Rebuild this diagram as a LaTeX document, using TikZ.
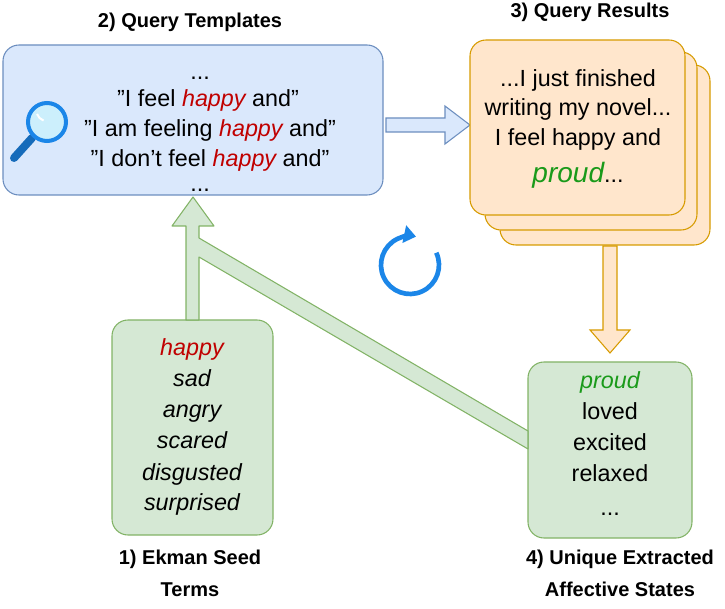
\documentclass[tikz,border=0pt]{standalone}
\usepackage{fontspec}
\setmainfont{Liberation Sans}[Ligatures=ResetAll]
\usetikzlibrary{arrows.meta}
\definecolor{bfill}{HTML}{DAE8FC}\definecolor{bdraw}{HTML}{6C8EBF}
\definecolor{ofill}{HTML}{FFE6CC}\definecolor{odraw}{HTML}{D79B00}
\definecolor{gfill}{HTML}{D5E8D4}\definecolor{gdraw}{HTML}{82B366}
\definecolor{hred}{HTML}{C00000}\definecolor{pgreen}{HTML}{1A9A1A}
\definecolor{cyc}{HTML}{1B86E8}
\begin{document}
\begin{tikzpicture}[x=0.75pt,y=-0.75pt,
  t/.style={font=\fontsize{17.5}{20}\selectfont,anchor=base,inner sep=0},
  ttl/.style={font=\fontsize{15}{17}\selectfont\bfseries,anchor=base,inner sep=0},
  box/.style={rounded corners=12pt,line width=0.8pt}]
\useasboundingbox (0,0) rectangle (725,609);
% blue box
\draw[box,fill=bfill,draw=bdraw] (3,45) rectangle (383,195);
\node[ttl] (t2) at (190,28) {2) Query Templates};
\node[t] (q0) at (200,80) {...};
\node[t] (q1) at (208,107) {"I feel \textcolor{hred}{\itshape happy} and"};
\node[t] (q2) at (210,137) {"I am feeling \textcolor{hred}{\itshape happy} and"};
\node[t] (q3) at (210,167) {"I don't feel \textcolor{hred}{\itshape happy} and"};
\node[t] (q4) at (200,192) {...};
% magnifier
\draw[line width=6pt,cyc!80!black,line cap=round] (32,138) -- (14,158);
\draw[line width=3pt,cyc,fill=cyan!20] (47,122) circle (19);
\draw[line width=1.5pt,white] (37,114) arc (-200:-250:11);
% blue arrow
\draw[fill=bfill,draw=bdraw,line width=0.8pt] (386,118) -- (445,118) -- (445,106) -- (470,125) -- (445,144) -- (445,132) -- (386,132) -- cycle;
% orange stack
\draw[box,fill=ofill,draw=odraw] (500,65) rectangle (710,245);
\draw[box,fill=ofill,draw=odraw] (485,52) rectangle (697,230);
\draw[box,fill=ofill,draw=odraw] (470,40) rectangle (685,215);
\node[ttl] (t3) at (590,18) {3) Query Results};
\node[t] (r1) at (578,87) {...I just finished};
\node[t] (r2) at (578,116) {writing my novel...};
\node[t] (r3) at (578,146) {I feel happy and};
\node[t] (r4) at (578,183) {\textcolor{pgreen}{\fontsize{21}{23}\selectfont\itshape proud}...};
% orange arrow
\draw[fill=ofill,draw=odraw,line width=0.8pt] (603,246) -- (617,246) -- (617,330) -- (630,330) -- (610,353) -- (590,330) -- (603,330) -- cycle;
% cycle
\draw[cyc,line width=3.5pt,-{Triangle[length=9pt,width=13pt]}] (410,265) ++(-25:29) arc (-25:282:29);
% green boxes
\draw[box,fill=gfill,draw=gdraw] (112,320) rectangle (273,535);
\draw[box,fill=gfill,draw=gdraw] (528,362) rectangle (692,538);
\node[t] (h1) at (192,356) {\textcolor{hred}{\itshape happy}};
\node[t] (h2) at (192,387) {\itshape sad};
\node[t] (h3) at (192,418) {\itshape angry};
\node[t] (h4) at (192,449) {\itshape scared};
\node[t] (h5) at (192,480) {\itshape disgusted};
\node[t] (h6) at (192,511) {\itshape surprised};
\node[ttl] (t1a) at (190,564) {1) Ekman Seed};
\node[ttl] (t1b) at (190,596) {Terms};
\node[t] (p1) at (610,389) {\textcolor{pgreen}{\itshape proud}};
\node[t] (p2) at (610,420) {loved};
\node[t] (p3) at (610,451) {excited};
\node[t] (p4) at (610,482) {relaxed};
\node[t] (p5) at (610,516) {...};
\node[ttl] (t4a) at (620,564) {4) Unique Extracted};
\node[ttl] (t4b) at (620,596) {Affective States};
% green arrows
\draw[fill=gfill,draw=gdraw,line width=0.8pt,line join=round]
 (186,320) -- (186,226) -- (172,226) -- (193,197) -- (214,226) -- (199,226) -- (199,238) -- (528,431) -- (528,449) -- (199,257) -- (199,320) -- cycle;
\end{tikzpicture}
\end{document}
